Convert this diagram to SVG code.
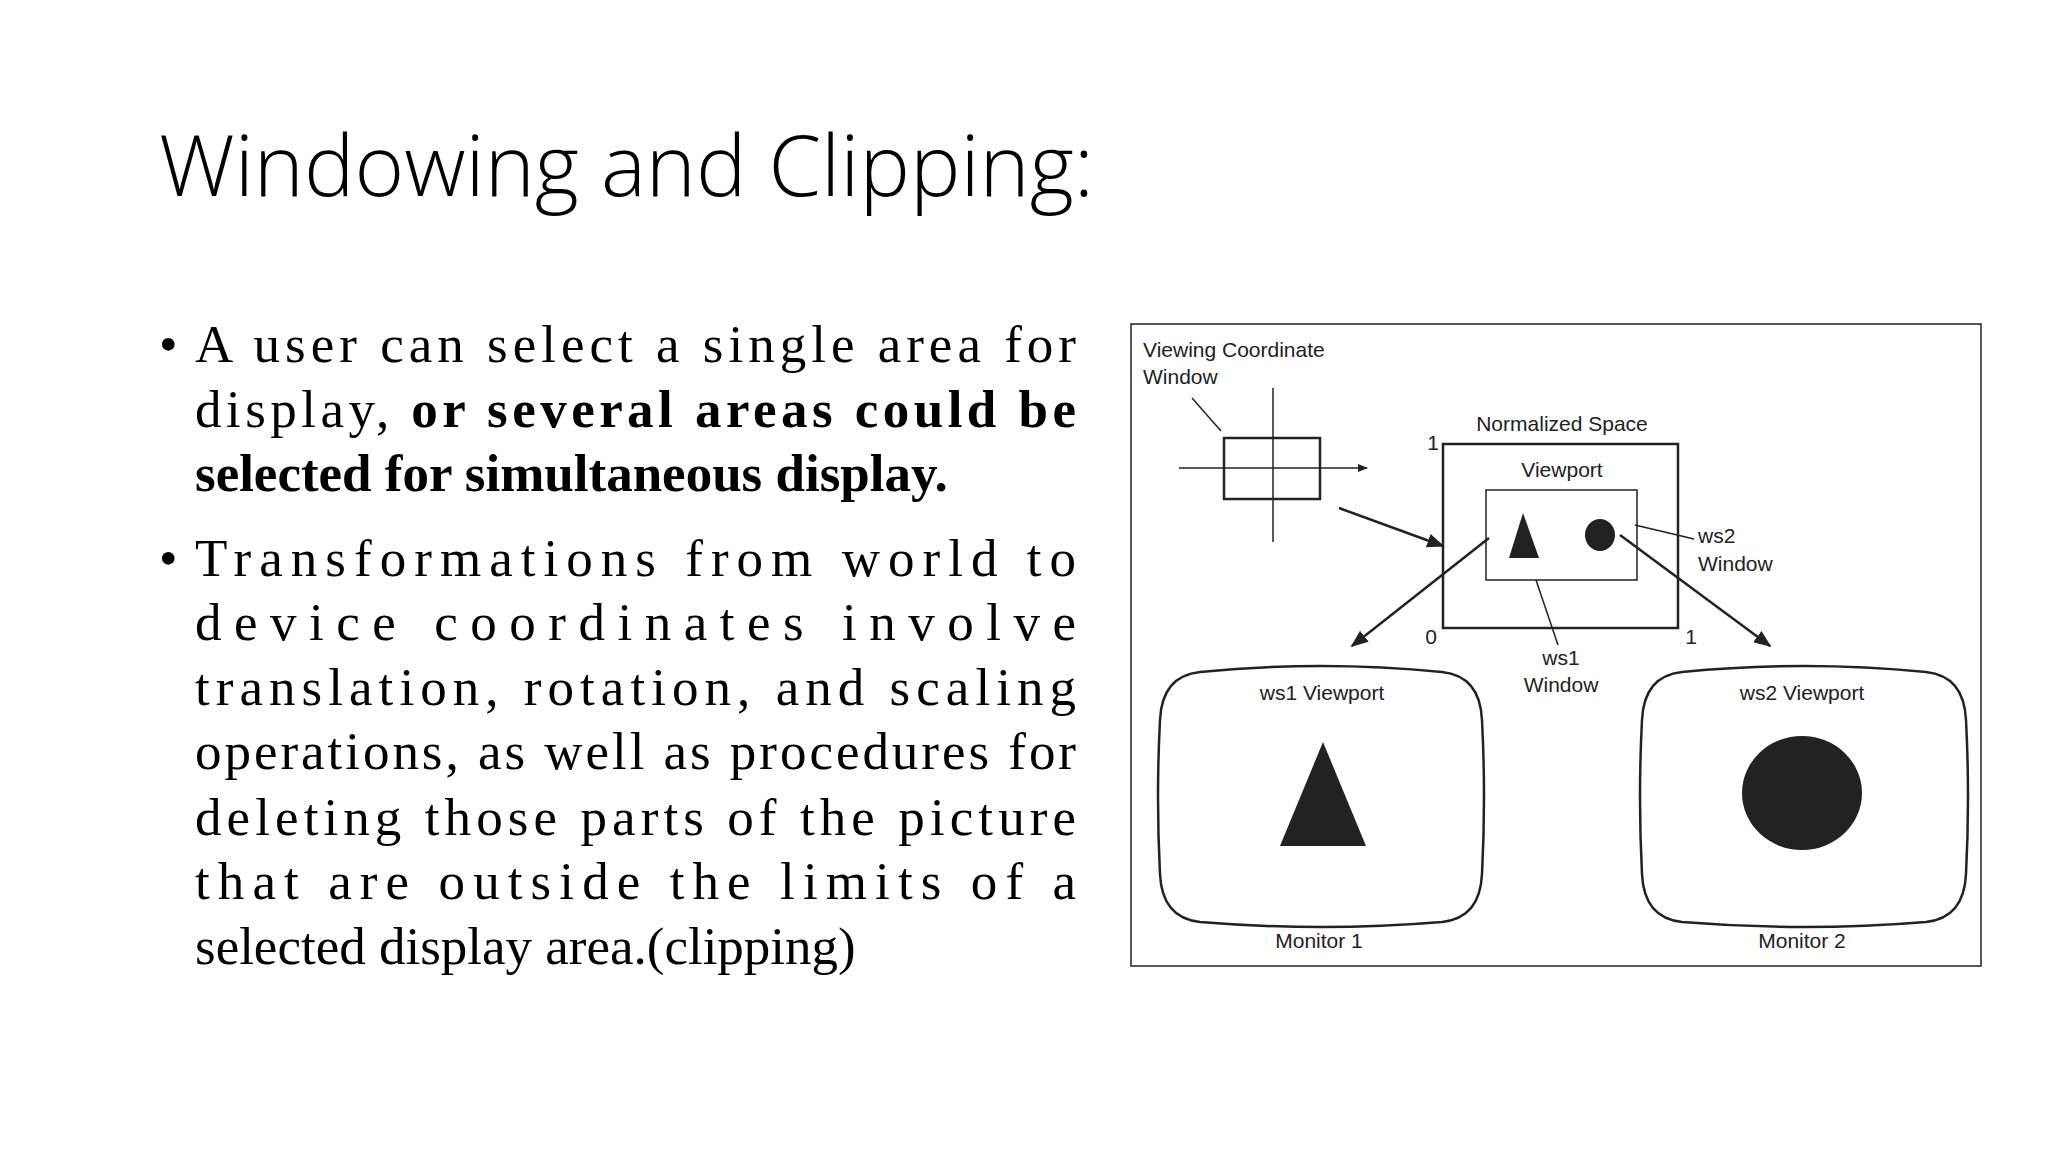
<svg xmlns="http://www.w3.org/2000/svg" width="2048" height="1152" viewBox="0 0 2048 1152">
<style>
.b{font-family:"Liberation Serif",serif;font-size:53px;fill:#000}
.d{font-family:"Liberation Sans",Arial,sans-serif;font-size:21px;fill:#222}
.s{fill:none;stroke:#222;stroke-width:2.5}
.t{fill:none;stroke:#222;stroke-width:1.5}
</style>
<defs><marker id="ah" viewBox="0 0 10 10" refX="9" refY="5" markerWidth="7" markerHeight="7" orient="auto"><path d="M0,1 L10,5 L0,9 z" fill="#222"/></marker></defs>
<rect width="2048" height="1152" fill="#fff"/>
<text x="159" y="196" font-family="'Open Sans',sans-serif" font-weight="300" font-size="84" textLength="935" lengthAdjust="spacingAndGlyphs">Windowing and Clipping:</text>
<g id="text">
<text class="b" x="159" y="362">•</text>
<text class="b" x="195" y="362" textLength="881" lengthAdjust="spacing">A user can select a single area for</text>
<text class="b" x="195" y="427" textLength="881" lengthAdjust="spacing">display, <tspan font-weight="bold">or several areas could be</tspan></text>
<text class="b" x="195" y="491" font-weight="bold">selected for simultaneous display.</text>
<text class="b" x="159" y="576">•</text>
<text class="b" x="195" y="576" textLength="881" lengthAdjust="spacing">Transformations from world to</text>
<text class="b" x="195" y="640" textLength="881" lengthAdjust="spacing">device coordinates involve</text>
<text class="b" x="195" y="705" textLength="881" lengthAdjust="spacing">translation, rotation, and scaling</text>
<text class="b" x="195" y="769" textLength="881" lengthAdjust="spacing">operations, as well as procedures for</text>
<text class="b" x="195" y="835" textLength="881" lengthAdjust="spacing">deleting those parts of the picture</text>
<text class="b" x="195" y="899" textLength="881" lengthAdjust="spacing">that are outside the limits of a</text>
<text class="b" x="195" y="964">selected display area.(clipping)</text>
</g>
<rect x="1131" y="324" width="850" height="642" class="t" stroke-width="2"/>
<g id="vcw">
<text class="d" x="1143" y="357">Viewing Coordinate</text>
<text class="d" x="1143" y="384">Window</text>
<line x1="1192" y1="398" x2="1221" y2="431" class="t"/>
<rect x="1224" y="438" width="96" height="61" class="s"/>
<line x1="1273" y1="388" x2="1273" y2="542" class="t"/>
<line x1="1179" y1="468" x2="1367" y2="468" class="t" marker-end="url(#ah)"/>
</g>
<g id="ns">
<text class="d" x="1562" y="431" text-anchor="middle">Normalized Space</text>
<text class="d" x="1433" y="450" text-anchor="middle">1</text>
<rect x="1443" y="444" width="235" height="184" class="s" stroke-width="3"/>
<text class="d" x="1562" y="477" text-anchor="middle">Viewport</text>
<rect x="1486" y="490" width="151" height="90" class="t" stroke-width="1"/>
<polygon points="1523,513 1509,558 1539,558" fill="#222"/>
<ellipse cx="1600" cy="535" rx="15" ry="16" fill="#222"/>
<text class="d" x="1431" y="644" text-anchor="middle">0</text>
<text class="d" x="1691" y="644" text-anchor="middle">1</text>
</g>
<g id="labels">
<line x1="1635" y1="525" x2="1694" y2="539" class="t" stroke-width="1"/>
<text class="d" x="1698" y="543">ws2</text>
<text class="d" x="1698" y="571">Window</text>
<line x1="1536" y1="580" x2="1558" y2="645" class="t" stroke-width="1"/>
<text class="d" x="1561" y="665" text-anchor="middle">ws1</text>
<text class="d" x="1561" y="692" text-anchor="middle">Window</text>
</g>
<g id="m1">
<path d="M1200,672 Q1321,660 1442,672 Q1480,676 1482,720 Q1486,797 1482,874 Q1480,918 1442,922 Q1321,932 1200,922 Q1162,918 1160,874 Q1156,797 1160,720 Q1162,676 1200,672 Z" class="s"/>
<text class="d" x="1322" y="700" text-anchor="middle">ws1 Viewport</text>
<polygon points="1323,742 1280,846 1366,846" fill="#222"/>
<text class="d" x="1319" y="948" text-anchor="middle">Monitor 1</text>
</g>
<g id="m2">
<path d="M1682,672 Q1804,660 1926,672 Q1964,676 1966,720 Q1970,797 1966,874 Q1964,918 1926,922 Q1804,932 1682,922 Q1644,918 1642,874 Q1638,797 1642,720 Q1644,676 1682,672 Z" class="s"/>
<text class="d" x="1802" y="700" text-anchor="middle">ws2 Viewport</text>
<ellipse cx="1802" cy="793" rx="60" ry="57" fill="#222"/>
<text class="d" x="1802" y="948" text-anchor="middle">Monitor 2</text>
</g>
<g id="connectors">
<line x1="1339" y1="508" x2="1443" y2="546" class="s" marker-end="url(#ah)"/>
<line x1="1489" y1="538" x2="1352" y2="646" class="s" marker-end="url(#ah)"/>
<line x1="1620" y1="535" x2="1770" y2="646" class="s" marker-end="url(#ah)"/>
</g>
</svg>
